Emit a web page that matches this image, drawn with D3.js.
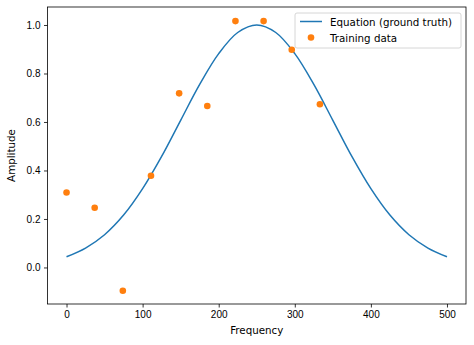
<!DOCTYPE html>
<html lang="en">
<head>
<meta charset="UTF-8">
<script src="https://cdnjs.cloudflare.com/ajax/libs/d3/7.8.5/d3.min.js"></script>
<style>
    body { margin: 0; background: #fff; }
    svg { font-family: "DejaVu Sans", sans-serif; }
    .tick text { font-size: 10px; fill: #000; }
</style>
</head>
<body>
<svg id="chart" width="474" height="345"></svg>
<script>
    // ground truth curve, every 25 Hz
    var curveX = [0, 25, 50, 75, 100, 125, 150, 175, 200, 225, 250,
                  275, 300, 325, 350, 375, 400, 425, 450, 475, 500];
    var curveY = [0.044, 0.080, 0.135, 0.216, 0.325, 0.458, 0.607, 0.755, 0.882, 0.969, 1.000,
                  0.969, 0.882, 0.755, 0.607, 0.458, 0.325, 0.216, 0.135, 0.080, 0.044];

    // training points
    var trainX = [0, 37, 74, 111, 148, 185, 222, 259, 296, 333];
    var trainY = [0.309, 0.246, -0.096, 0.378, 0.718, 0.666, 1.016, 1.016, 0.898, 0.673];

    var xTicks = [0, 100, 200, 300, 400, 500];
    var yTicks = [0.0, 0.2, 0.4, 0.6, 0.8, 1.0];

    var svg = d3.select("#chart");
    var m = {left: 47.5, right: 466, top: 7, bottom: 304};

    var x = d3.scaleLinear().domain([-25, 525]).range([m.left, m.right]);
    var y = d3.scaleLinear().domain([-0.1507, 1.0742]).range([m.bottom, m.top]);

    var xAxis = svg.append("g")
        .attr("transform", "translate(0," + m.bottom + ")")
        .call(d3.axisBottom(x).tickValues(xTicks).tickSize(3.5).tickPadding(3.5));
    var yAxis = svg.append("g")
        .attr("transform", "translate(" + m.left + ",0)")
        .call(d3.axisLeft(y).tickValues(yTicks).tickFormat(d3.format(".1f")).tickSize(3.5).tickPadding(3.5));
    [xAxis, yAxis].forEach(function (a) {
        a.select(".domain").remove();
        a.selectAll(".tick line").attr("stroke", "#000").attr("stroke-width", 0.8);
    });

    var line = d3.line()
        .x(function (d) { return x(d[0]); })
        .y(function (d) { return y(d[1]); })
        .curve(d3.curveCatmullRom);

    svg.append("path")
        .datum(d3.zip(curveX, curveY))
        .attr("d", line)
        .attr("fill", "none")
        .attr("stroke", "#1f77b4")
        .attr("stroke-width", 1.5);

    svg.append("g").selectAll("circle")
        .data(d3.zip(trainX, trainY))
        .join("circle")
        .attr("cx", function (d) { return x(d[0]); })
        .attr("cy", function (d) { return y(d[1]); })
        .attr("r", 3.3)
        .attr("fill", "#ff7f0e");

    // frame
    svg.append("rect")
        .attr("x", m.left).attr("y", m.top)
        .attr("width", m.right - m.left).attr("height", m.bottom - m.top)
        .attr("fill", "none").attr("stroke", "#000").attr("stroke-width", 0.8);

    svg.append("text")
        .attr("x", (m.left + m.right) / 2).attr("y", 334)
        .attr("text-anchor", "middle").attr("font-size", 10.3)
        .text("Frequency");
    svg.append("text")
        .attr("transform", "translate(15," + ((m.top + m.bottom) / 2) + ") rotate(-90)")
        .attr("text-anchor", "middle").attr("font-size", 10.3)
        .text("Amplitude");

    // legend
    var lg = svg.append("g");
    lg.append("rect")
        .attr("x", 295).attr("y", 13).attr("width", 166).attr("height", 35).attr("rx", 2)
        .attr("fill", "#fff").attr("fill-opacity", 0.8)
        .attr("stroke", "#ccc").attr("stroke-width", 0.8);
    lg.append("line")
        .attr("x1", 300).attr("x2", 322).attr("y1", 21.5).attr("y2", 21.5)
        .attr("stroke", "#1f77b4").attr("stroke-width", 1.5);
    lg.append("circle")
        .attr("cx", 311).attr("cy", 37.5).attr("r", 3.3).attr("fill", "#ff7f0e");
    lg.append("text").attr("x", 330).attr("y", 25.5).attr("font-size", 10.3)
        .text("Equation (ground truth)");
    lg.append("text").attr("x", 330).attr("y", 41.5).attr("font-size", 10.3)
        .text("Training data");
</script>
</body>
</html>
